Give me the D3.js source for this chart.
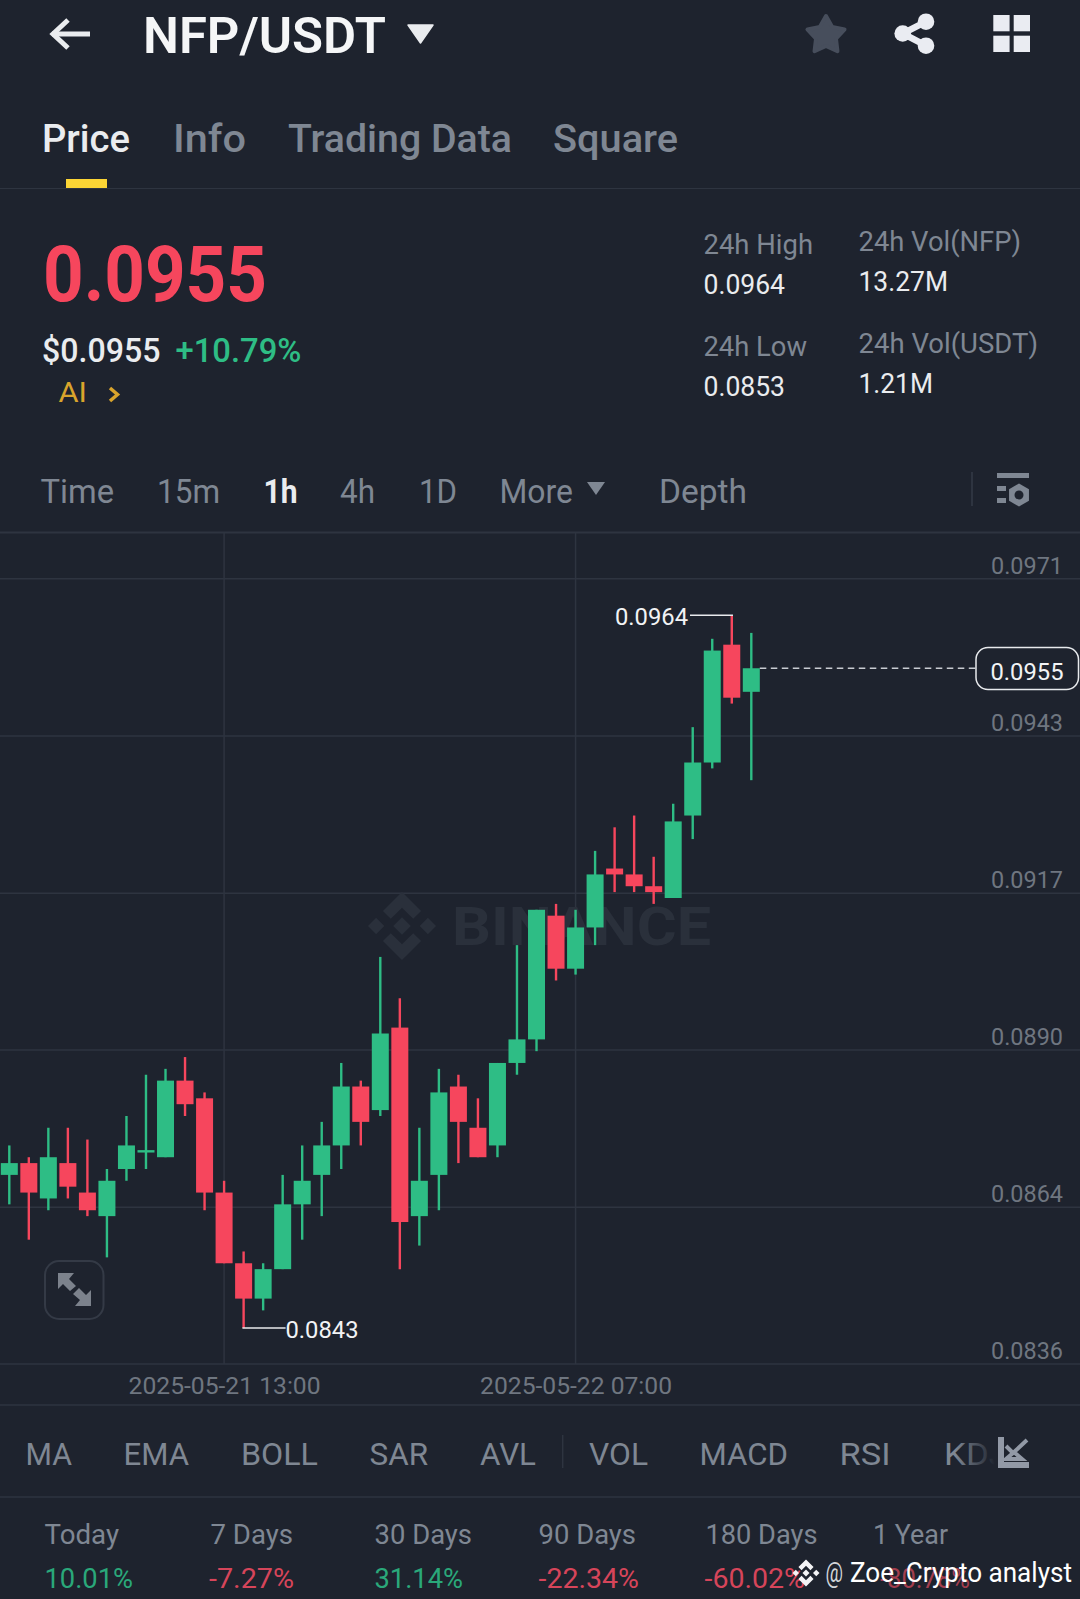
<!DOCTYPE html>
<html><head><meta charset="utf-8">
<script src="https://cdn.jsdelivr.net/npm/d3@7"></script>
<style>html,body{margin:0;padding:0;background:#1e232e;overflow:hidden}svg{display:block}text{font-family:Roboto,"Noto Sans",sans-serif}</style>
</head><body><svg id="c" width="1080" height="1599"></svg>
<script>
// ---- data ----
const firstCandle = Date.UTC(2025,4,21,2);
const opens  = [.0869,.0871,.0865,.0871,.0866,.0862,.0870,.0873,.0872,.0885,.0882,.0866,.0854,.0848,.0853,.0864,.0869,.0874,.0884,.0880,.0894,.0862,.0869,.0884,.0877,.0874,.0888,.0892,.0913,.0904,.0911,.0921,.0920,.0918,.0916,.0930,.0939,.0959,.0951];
const closes = [.0871,.0866,.0872,.0867,.0863,.0868,.0874,.0873,.0885,.0881,.0866,.0854,.0848,.0853,.0864,.0868,.0874,.0884,.0878,.0893,.0861,.0868,.0883,.0878,.0872,.0888,.0892,.0914,.0904,.0911,.0920,.0920,.0918,.0917,.0929,.0939,.0958,.0950,.0955];
const highs  = [.0874,.0872,.0877,.0877,.0875,.0870,.0879,.0886,.0887,.0889,.0883,.0868,.0856,.0854,.0869,.0874,.0878,.0888,.0885,.0906,.0899,.0877,.0887,.0886,.0882,.0888,.0908,.0914,.0915,.0914,.0924,.0928,.0930,.0923,.0932,.0945,.0960,.0964,.0961];
const lows   = [.0864,.0858,.0863,.0865,.0862,.0855,.0868,.0870,.0872,.0879,.0863,.0854,.0843,.0846,.0853,.0858,.0862,.0870,.0874,.0879,.0853,.0857,.0863,.0871,.0872,.0872,.0886,.0890,.0902,.0903,.0908,.0917,.0917,.0915,.0916,.0926,.0938,.0949,.0936];
const priceTicks  = [.09702,.09435,.09168,.08902,.08635,.08369];
const priceLabels = ["0.0971","0.0943","0.0917","0.0890","0.0864","0.0836"];
const timeTicks   = [Date.UTC(2025,4,21,13),Date.UTC(2025,4,22,7)];
const timeLabels  = ["2025-05-21 13:00","2025-05-22 07:00"];
const highPrice = .0964, lowPrice = .0843, lastPrice = .0955;

// ---- colours ----
const BG="#1e232e",GRID="#2e3440",UP="#2ebd85",DOWN="#f6465d",GREY="#7f8793",DIM="#6f7680",WHITE="#eaecef";
const UP_DIM="#2aa87a",DOWN_DIM="#d6455a";

const svg=d3.select("#c");
svg.append("rect").attr("width",1080).attr("height",1599).attr("fill",BG);
const defs=svg.append("defs");
const fade=defs.append("linearGradient").attr("id","fade");
fade.append("stop").attr("offset",0).attr("stop-color",BG).attr("stop-opacity",0);
fade.append("stop").attr("offset",1).attr("stop-color",BG).attr("stop-opacity",1);

function T(s,x0,x1,y,size,fill,weight=400){
  return svg.append("text").text(s).attr("x",x0).attr("y",y).attr("font-size",size).attr("fill",fill)
    .attr("font-weight",weight).attr("textLength",x1-x0).attr("lengthAdjust","spacingAndGlyphs");
}
function L(x1,y1,x2,y2,c,w=1.5){svg.append("line").attr("x1",x1).attr("y1",y1).attr("x2",x2).attr("y2",y2).attr("stroke",c).attr("stroke-width",w);}
function P(d,fill,extra={}){const p=svg.append("path").attr("d",d).attr("fill",fill);for(const k in extra)p.attr(k,extra[k]);return p;}
function logo(cx,cy,r,c){
  const sh=[[[0,-1],[.56,-.44],[.33,-.21],[0,-.54],[-.33,-.21],[-.56,-.44]],[[0,1],[.56,.44],[.33,.21],[0,.54],[-.33,.21],[-.56,.44]],
    [[-1,0],[-.76,-.24],[-.52,0],[-.76,.24]],[[1,0],[.76,-.24],[.52,0],[.76,.24]],[[0,-.26],[.26,0],[0,.26],[-.26,0]]];
  sh.forEach(s=>P("M"+s.map(q=>[cx+q[0]*r,cy+q[1]*r].join(",")).join("L")+"Z",c));
}

// ---- header ----
P("M52,34 L90,34",'none',{stroke:"#eaecef","stroke-width":5});
P("M68,20 L53,34 L68,48",'none',{stroke:"#eaecef","stroke-width":5});
T("NFP/USDT",143,386,53,50,"#f5f6f7",600);
P("M408,25 L433,25 L420.5,43 Z","#eaecef",{stroke:"#eaecef","stroke-width":1.5,"stroke-linejoin":"round"});
// star
const star=d3.range(10).map(i=>{const r=i%2?10.5:19.5,a=-Math.PI/2+i*Math.PI/5;return [826+r*Math.cos(a),35.5+r*Math.sin(a)];});
P("M"+star.map(p=>p.join(",")).join("L")+"Z","#474e5c",{stroke:"#474e5c","stroke-width":4,"stroke-linejoin":"round"});
// share
P("M926,21.7 L902.7,33.5 L926,45.7","none",{stroke:"#eaecf2","stroke-width":6.5});
[[926,21.7,8.3],[902.7,33.5,8.3],[926,45.7,8.3]].forEach(c=>svg.append("circle").attr("cx",c[0]).attr("cy",c[1]).attr("r",c[2]).attr("fill","#eaecf2"));
// layout grid
[[993.3,15],[1013.7,15],[993.3,35.7],[1013.7,35.7]].forEach(c=>svg.append("rect").attr("x",c[0]).attr("y",c[1]).attr("width",16.3).attr("height",16.3).attr("fill","#eaecf2"));

// tabs
T("Price",42,130,152,39,"#eaecef",500);
T("Info",173,246,152,39,GREY,500);
T("Trading Data",288,512,152,39,GREY,500);
T("Square",553,678,152,39,GREY,500);
L(0,188.5,1080,188.5,GRID,1);
svg.append("rect").attr("x",66).attr("y",179).attr("width",41).attr("height",9).attr("fill","#fcd535");

// price block
T("0.0955",43,267,301,78,DOWN,700);
T("$0.0955",42,160.5,361.5,33,WHITE,500);
T("+10.79%",175.5,301.5,361.5,33,UP,500);
T("AI",58.5,87,402,27,"#d9a42c");
P("M110,388 L117.5,394.5 L110,401","none",{stroke:"#d9a42c","stroke-width":3.5});
T("24h High",703.5,813,254,28,GREY);
T("0.0964",703.5,785,294,28,WHITE);
T("24h Low",703.5,807,356,28,GREY);
T("0.0853",703.5,785,396,28,WHITE);
T("24h Vol(NFP)",858.5,1021,251,28,GREY);
T("13.27M",858.5,948,291,28,WHITE);
T("24h Vol(USDT)",858.5,1038,353,28,GREY);
T("1.21M",858.5,933,392.5,28,WHITE);

// interval row
const RY=503;
T("Time",40.5,114,RY,33,GREY);
T("15m",157,220,RY,33,GREY);
T("1h",263.5,297.5,RY,33,WHITE,700);
T("4h",340,375,RY,33,GREY);
T("1D",419,457,RY,33,GREY);
T("More",499.5,573,RY,33,GREY);
P("M587,482 L605,482 L596,495 Z",GREY);
T("Depth",659,747,RY,33,GREY);
L(972,472,972,506,GRID,2);
svg.append("rect").attr("x",997).attr("y",473).attr("width",32).attr("height",5).attr("fill",GREY);
svg.append("rect").attr("x",997).attr("y",486).attr("width",9).attr("height",5).attr("fill",GREY);
svg.append("rect").attr("x",997).attr("y",498).attr("width",9).attr("height",5).attr("fill",GREY);
const hex=d3.range(6).map(i=>{const a=-Math.PI/2+i*Math.PI/3;return [1019+11.5*Math.cos(a),495+11.5*Math.sin(a)];});
P("M"+hex.map(p=>p.join(",")).join("L")+"Z",GREY);
svg.append("circle").attr("cx",1019).attr("cy",495).attr("r",4.5).attr("fill",BG);
L(0,532.5,1080,532.5,GRID,2);

// ---- chart ----
const candles=opens.map((o,i)=>({t:d3.utcHour.offset(new Date(firstCandle),i),o,c:closes[i],h:highs[i],l:lows[i]}));
const x=d3.scaleUtc().domain([candles[0].t,candles[candles.length-1].t]).range([9.3,751.3]);
const y=d3.scaleLinear().domain([priceTicks[5],priceTicks[0]]).range([1364,578.7]);

// gridlines
svg.append("g").selectAll("line").data(priceTicks).join("line")
  .attr("x1",0).attr("x2",1080).attr("y1",d=>y(d)).attr("y2",d=>y(d)).attr("stroke",GRID).attr("stroke-width",1.5);
svg.append("g").selectAll("line").data(timeTicks).join("line")
  .attr("x1",d=>x(new Date(d))).attr("x2",d=>x(new Date(d))).attr("y1",533).attr("y2",1364).attr("stroke",GRID).attr("stroke-width",1.5);

// watermark
logo(402,926,34,"#2a303b");
svg.append("text").text("BINANCE").attr("x",452).attr("y",945).attr("font-size",53).attr("font-weight",700)
  .attr("fill","#2a303b").attr("textLength",259).attr("lengthAdjust","spacingAndGlyphs");

// y axis labels
const yAxis=d3.axisRight(y).tickValues(priceTicks).tickSize(0).tickPadding(0).tickFormat((d,i)=>priceLabels[i]);
const gy=svg.append("g").attr("transform","translate(991,0)").call(yAxis);
gy.select(".domain").remove();
gy.selectAll("text").attr("dy",0).attr("y",-5.7).attr("x",0).attr("font-size",23).attr("fill",DIM).attr("text-anchor","start")
  .style("font-family","Roboto").attr("textLength",72).attr("lengthAdjust","spacingAndGlyphs");

// x axis labels
const xAxis=d3.axisBottom(x).tickValues(timeTicks.map(d=>new Date(d))).tickSize(0).tickPadding(0).tickFormat((d,i)=>timeLabels[i]);
const gx=svg.append("g").attr("transform","translate(0,1394)").call(xAxis);
gx.select(".domain").remove();
gx.selectAll("text").attr("y",0).attr("dy",0).attr("font-size",23).attr("fill",DIM).style("font-family","Roboto")
  .attr("textLength",192).attr("lengthAdjust","spacingAndGlyphs");

// candles
const col=d=>d.c>=d.o?UP:DOWN;
const cg=svg.append("g");
cg.selectAll("line").data(candles).join("line")
  .attr("x1",d=>x(d.t)).attr("x2",d=>x(d.t)).attr("y1",d=>y(d.h)).attr("y2",d=>y(d.l)).attr("stroke",col).attr("stroke-width",2.4);
cg.selectAll("rect").data(candles).join("rect")
  .attr("x",d=>x(d.t)-8.5).attr("width",17)
  .attr("y",d=>Math.min(y(d.o),y(d.c))-(d.o===d.c?1.2:0))
  .attr("height",d=>Math.max(2.4,Math.abs(y(d.o)-y(d.c))))
  .attr("fill",col);

// high / low / last markers
const hi=candles.find(d=>d.h===highPrice), lo=candles.find(d=>d.l===lowPrice), last=candles[candles.length-1];
L(690,y(highPrice),x(hi.t)+1.2,y(highPrice),"#e8eaed",1.5);
T("0.0964",615,688,625,24,"#f2f3f5");
L(x(lo.t)-1.2,y(lowPrice),285.6,y(lowPrice),"#e8eaed",1.5);
T("0.0843",285.5,358.5,1338,24,"#f2f3f5");
svg.append("line").attr("x1",x(last.t)+8.5).attr("x2",976).attr("y1",y(lastPrice)).attr("y2",y(lastPrice))
  .attr("stroke","#c8ccd2").attr("stroke-width",1.6).attr("stroke-dasharray","6.5,4.5");
svg.append("rect").attr("x",976).attr("y",647.5).attr("width",102.5).attr("height",42).attr("rx",12)
  .attr("fill",BG).attr("stroke","#e8eaed").attr("stroke-width",1.5);
T("0.0955",990.5,1063.5,680,24,"#f2f3f5");

// expand button
svg.append("rect").attr("x",45).attr("y",1261).attr("width",58.5).attr("height",58).attr("rx",14).attr("fill","none").attr("stroke","#343a46").attr("stroke-width",2);
P("M58,1273 L74,1273 L69,1279 L76,1286 L70,1291 L63,1284 L58,1289 Z","#7c828c");
P("M91,1306 L75,1306 L80,1300 L73,1294 L79,1288 L86,1295 L91,1290 Z","#7c828c");

// ---- indicators ----
L(0,1405,1080,1405,GRID,1.5);
[["MA",25.5,72],["EMA",123.5,189],["BOLL",241,318],["SAR",369.5,428],["AVL",480,536],["VOL",589,648],["MACD",699.5,788],["RSI",839.5,890.5],["KDJ",944,1008]]
  .forEach(a=>T(a[0],a[1],a[2],1464.5,31,GREY));
L(562.7,1435,562.7,1468,GRID,1.5);
svg.append("rect").attr("x",955).attr("y",1430).attr("width",40).attr("height",45).attr("fill","url(#fade)");
svg.append("rect").attr("x",995).attr("y",1430).attr("width",85).attr("height",45).attr("fill",BG);
P("M1001,1437 V1465 H1029","none",{stroke:"#9299a6","stroke-width":6});
P("M1006,1446 L1013,1453 L1027,1440 M1013,1453 L1006,1459 H1022 L1015,1453","none",{stroke:"#9299a6","stroke-width":4});
L(0,1497,1080,1497,GRID,1.5);

// ---- stats ----
[["Today",44.5,119],["7 Days",210.5,293],["30 Days",374.5,472],["90 Days",538.5,636],["180 Days",705.5,817.5],["1 Year",873,948]]
  .forEach(a=>T(a[0],a[1],a[2],1544,28,GREY));
[["10.01%",44.5,133,UP_DIM],["-7.27%",209,294,DOWN_DIM],["31.14%",374.5,463,UP_DIM],["-22.34%",538.5,639,DOWN_DIM],["-60.02%",704.5,805,DOWN_DIM],["-80.78%",880,970,"#a33e4e"]]
  .forEach(a=>T(a[0],a[1],a[2],1588,28,a[3]));

// author mark
logo(806,1573,13.5,"#f4f4f6");
T("@",825.5,843,1582,28,"#d2d4d8");
T("Zoe_Crypto analyst",850,1072,1582,28,"#ffffff");
</script></body></html>
